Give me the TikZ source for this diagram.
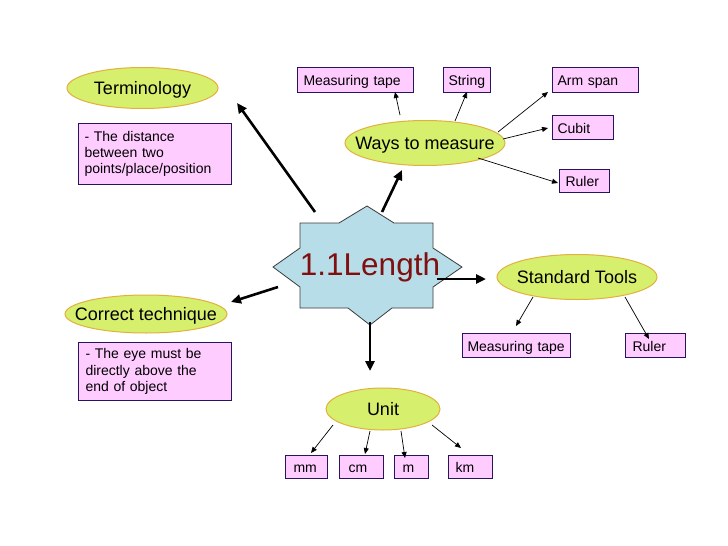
\documentclass[tikz,border=0pt]{standalone}
\usepackage{fontspec}
\setmainfont{Liberation Sans}
\usetikzlibrary{shapes.geometric,arrows.meta}
\definecolor{ellfill}{RGB}{214,240,110}
\definecolor{ellborder}{RGB}{226,176,60}
\definecolor{bxfill}{RGB}{255,204,255}
\definecolor{bxborder}{RGB}{40,20,95}
\definecolor{starfill}{RGB}{183,221,232}
\definecolor{starborder}{RGB}{60,60,60}
\definecolor{lenred}{RGB}{128,16,16}
\newcommand{\zw}[1]{\makebox[0pt]{#1}}
\begin{document}
\begin{tikzpicture}[x=1pt,y=-1pt,
  ell/.style={ellipse,draw=ellborder,fill=ellfill,line width=1pt,inner sep=0pt,text height=16pt,text depth=3pt,font=\fontsize{18}{21}\selectfont},
  bx/.style={rectangle,draw=bxborder,fill=bxfill,line width=1pt,inner ysep=0pt,inner xsep=6pt,align=left,anchor=north west,font=\fontsize{14}{16.2}\selectfont},
  sbx/.style={bx,text height=11pt,text depth=0pt},
  bigarrow/.style={line width=2.6pt,-{Triangle[length=10pt,width=9pt]}},
  smallarrow/.style={line width=0.7pt,-{Triangle[length=6pt,width=5pt]}}]
\useasboundingbox (0,0) rectangle (728,546);
\fill[white] (0,0) rectangle (728,546);

% central star
\draw[fill=starfill,draw=starborder,line width=0.8pt]
  (300,223) -- (339,223) -- (367,206) -- (394,223) -- (433,223) -- (433,248)
  -- (462,267) -- (433,287) -- (433,308) -- (392,308) -- (370,325) -- (348,308)
  -- (300,308) -- (300,287) -- (273,267) -- (300,248) -- cycle;
\node[anchor=base,inner sep=0pt,text=lenred,font=\fontsize{31.5}{36}\selectfont] (len) at (370,275) {1.1Length};

% ellipses
\node[ell,minimum width=151pt,minimum height=41pt] (term) at (142.5,88) {\zw{Terminology}};
\node[ell,minimum width=160pt,minimum height=45pt] (ways) at (425,143) {\zw{Ways to measure}};
\node[ell,minimum width=160pt,minimum height=45pt] (std) at (577,277) {\zw{Standard Tools}};
\node[ell,minimum width=162pt,minimum height=38pt] (corr) at (146,314) {\zw{Correct technique}};
\node[ell,minimum width=114pt,minimum height=42pt] (unit) at (383,409) {\zw{Unit}};

% boxes
\node[bx,inner xsep=6pt,text width=141pt,minimum height=61pt] (termbox) at (78,123) {- The distance\\between two\\points/place/position};
\node[bx,inner xsep=7pt,text width=139pt,minimum height=58pt] (corrbox) at (78,342) {- The eye must be\\directly above the\\end of object};
\node[sbx,inner xsep=6pt,text width=104pt,minimum height=25pt] (mtape1) at (297,67) {Measuring tape};
\node[sbx,inner xsep=5pt,text width=37pt,minimum height=25pt] (string) at (443,67) {String};
\node[sbx,inner xsep=5pt,text width=76pt,minimum height=25pt] (arm) at (552,67) {Arm span};
\node[sbx,inner xsep=5pt,text width=51pt,minimum height=24pt] (cubit) at (552,115) {Cubit};
\node[sbx,inner xsep=6pt,text width=38pt,minimum height=23pt] (ruler1) at (559,169) {Ruler};
\node[sbx,inner xsep=5pt,text width=98pt,minimum height=24pt] (mtape2) at (462,333) {Measuring tape};
\node[sbx,inner xsep=7pt,text width=46pt,minimum height=24pt] (ruler2) at (625,333) {Ruler};
\node[sbx,inner xsep=8pt,text width=26pt,minimum height=23pt] (mm) at (285,455) {mm};
\node[sbx,inner xsep=9pt,text width=26pt,minimum height=23pt] (cm) at (339,455) {cm};
\node[sbx,inner xsep=8pt,text width=18pt,minimum height=23pt] (m) at (394,455) {m};
\node[sbx,inner xsep=7pt,text width=30pt,minimum height=23pt] (km) at (448,455) {km};

% thick arrows from the star
\coordinate (s1) at (315,212); \coordinate (e1) at (237,103);
\coordinate (s2) at (382,212); \coordinate (e2) at (402,170);
\coordinate (s3) at (278,287); \coordinate (e3) at (231,302);
\coordinate (s4) at (437,279); \coordinate (e4) at (486,279);
\coordinate (s5) at (370,322); \coordinate (e5) at (370,371);
\draw[bigarrow] (s1) -- (e1);
\draw[bigarrow] (s2) -- (e2);
\draw[bigarrow] (s3) -- (e3);
\draw[bigarrow] (s4) -- (e4);
\draw[bigarrow] (s5) -- (e5);

% thin arrows from Ways to measure
\coordinate (w1) at (400,115); \coordinate (t1) at (395,92);
\coordinate (w2) at (455,121); \coordinate (t2) at (467,92);
\coordinate (w3) at (498,132); \coordinate (t3) at (548,92);
\coordinate (w4) at (503,139); \coordinate (t4) at (548,128);
\coordinate (w5) at (478,158); \coordinate (t5) at (558,183);
\draw[smallarrow] (w1) -- (t1);
\draw[smallarrow] (w2) -- (t2);
\draw[smallarrow] (w3) -- (t3);
\draw[smallarrow] (w4) -- (t4);
\draw[smallarrow] (w5) -- (t5);

% thin arrows from Standard Tools
\coordinate (d1) at (533,297); \coordinate (f1) at (516,326);
\coordinate (d2) at (625,297); \coordinate (f2) at (649,339);
\draw[smallarrow] (d1) -- (f1);
\draw[smallarrow] (d2) -- (f2);

% thin arrows from Unit
\coordinate (u1) at (333,425); \coordinate (v1) at (311,453);
\coordinate (u2) at (370,431); \coordinate (v2) at (365,454);
\coordinate (u3) at (401,431); \coordinate (v3) at (405,458);
\coordinate (u4) at (432,425); \coordinate (v4) at (461,448);
\draw[smallarrow] (u1) -- (v1);
\draw[smallarrow] (u2) -- (v2);
\draw[smallarrow] (u3) -- (v3);
\draw[smallarrow] (u4) -- (v4);
\end{tikzpicture}
\end{document}
